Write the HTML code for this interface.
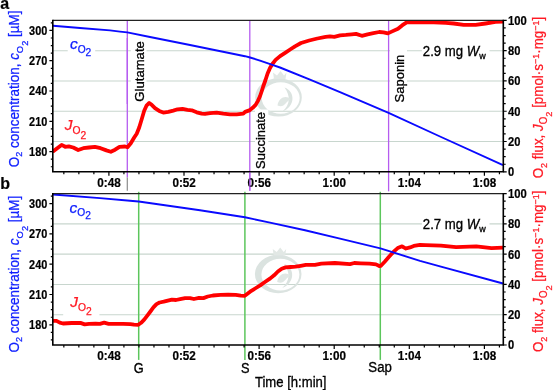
<!DOCTYPE html><html><head><meta charset="utf-8"><title>O2 flux traces</title><style>html,body{margin:0;padding:0;background:#fff;overflow:hidden}svg{display:block}</style></head><body>
<svg width="553" height="390" viewBox="0 0 553 390" font-family="'Liberation Sans', Arial, Helvetica, sans-serif">
<style>.t{stroke:#000;stroke-width:0.3px}.tb{stroke:#1020ff;stroke-width:0.25px}.tr{stroke:#ff1a24;stroke-width:0.25px}.tk{stroke:#000;stroke-width:0.2px}</style>
<rect width="553" height="390" fill="#fff"/>
<defs>
<clipPath id="ca"><rect x="52.8" y="20.40" width="450.50" height="151.40"/></clipPath>
<clipPath id="cb"><rect x="52.8" y="193.60" width="450.50" height="151.40"/></clipPath>
</defs>
<line x1="52.8" y1="141.52" x2="503.3" y2="141.52" stroke="#c8d6ce" stroke-width="1.1"/>
<line x1="52.8" y1="111.24" x2="503.3" y2="111.24" stroke="#c8d6ce" stroke-width="1.1"/>
<line x1="52.8" y1="80.96" x2="503.3" y2="80.96" stroke="#c8d6ce" stroke-width="1.1"/>
<line x1="52.8" y1="50.68" x2="503.3" y2="50.68" stroke="#c8d6ce" stroke-width="1.1"/>
<g transform="translate(278.5,97.4)" fill="#dbe3e0" stroke="none"><path fill-rule="evenodd" d="M-23.3,0a23.3,19.2 0 1,0 46.6,0a23.3,19.2 0 1,0 -46.6,0zM-16.8,0.6a19,15.8 0 1,0 38,0a19,15.8 0 1,0 -38,0z"/><path fill="#e2e8e5" d="M-4.5,-18.5L-5.5,-25L-1.5,-22L2,-26.5L5.5,-22L8,-25L7,-18.5z"/><path d="M6,-10C17,-6 17,9 4,14C12,7 12,-2 6,-10z"/><path fill="#e0e7e4" d="M-1,8C0,0 8,-3 12,2C7,4 6,11 -1,8z"/></g>
<line x1="127.3" y1="20.4" x2="127.3" y2="177.4" stroke="#b65cf0" stroke-width="1.3"/>
<line x1="127.3" y1="177.4" x2="127.3" y2="190.8" stroke="#8c8c8c" stroke-width="1.2"/>
<line x1="249.8" y1="20.4" x2="249.8" y2="190.8" stroke="#b65cf0" stroke-width="1.3"/>
<line x1="388.6" y1="20.4" x2="388.6" y2="191.3" stroke="#b65cf0" stroke-width="1.3"/>
<rect x="130.8" y="38" width="15.7" height="65.5" fill="#fff"/>
<rect x="255" y="109.5" width="13.3" height="61.3" fill="#fff"/>
<rect x="390" y="47" width="17.0" height="57.5" fill="#fff"/>
<rect x="67.7" y="39" width="27.5" height="19.0" fill="#fff"/>
<line x1="127.3" y1="38" x2="127.3" y2="104" stroke="#b65cf0" stroke-width="1.3"/>
<rect x="421.9" y="40.5" width="67.6" height="20" fill="#fff"/>
<g clip-path="url(#ca)">
<polyline points="53.6,151.1 57.2,148.2 61.6,144.9 65.2,146.8 68.8,146.3 73.2,147.5 78.2,150.0 83.3,148.2 89.0,147.5 94.9,146.8 100.6,148.2 106.4,150.4 110.8,151.8 115.1,149.7 119.5,146.8 125.0,146.5 127.5,147.3 130.8,143.3 134.2,137.5 136.7,133.7 139.2,127.5 141.7,119.2 144.2,110.8 146.7,105.3 149.2,103.0 151.7,104.8 155.0,108.1 159.2,110.9 163.3,112.6 168.3,111.9 173.3,110.6 177.5,109.3 182.5,108.9 187.5,109.8 191.7,110.3 196.7,112.3 201.7,113.6 205.0,113.9 210.0,113.1 216.7,112.6 223.3,113.6 230.0,114.4 236.7,114.3 243.3,113.6 245.1,111.9 249.3,110.4 252.7,107.8 255.6,104.9 257.8,101.1 259.9,96.5 261.6,91.5 263.2,86.5 265.5,80.0 267.6,73.5 270.0,68.0 272.0,64.5 275.6,59.9 280.1,56.1 285.5,52.6 290.9,49.0 295.0,46.3 301.0,43.0 309.2,40.5 317.4,38.5 325.6,36.8 330.0,36.3 334.3,36.8 340.1,35.3 345.9,34.9 351.7,34.3 356.0,33.9 361.8,35.8 367.6,34.3 373.4,33.2 379.2,32.0 383.5,32.4 387.9,33.4 392.2,31.4 398.0,28.8 402.4,25.2 406.7,22.3 410.0,22.3 419.9,22.3 433.8,22.3 445.8,22.9 453.7,23.5 463.7,24.9 475.6,24.9 485.5,23.5 495.5,21.9 503.0,21.6" fill="none" stroke="#ff0000" stroke-width="3.8" stroke-linejoin="round" stroke-linecap="round"/>
<polyline points="53.0,25.7 80.0,28.0 110.0,30.4 120.0,31.6 127.3,32.4 150.0,37.0 190.0,45.0 245.0,56.2 250.0,57.5 260.0,60.6 271.7,64.6 280.0,67.5 310.0,79.6 340.0,92.2 388.6,112.9 440.0,136.5 503.0,165.1" fill="none" stroke="#0a0aff" stroke-width="1.9" stroke-linejoin="round"/>
</g>
<line x1="52.8" y1="20.4" x2="503.3" y2="20.4" stroke="#222" stroke-width="1.2"/>
<path d="M52.8,19.799999999999997 V171.8 H503.3 V19.799999999999997" fill="none" stroke="#000" stroke-width="1.6"/>
<path d="M50.8,22.82H52.8M49.4,30.40H52.8M50.8,37.98H52.8M50.8,45.55H52.8M50.8,53.12H52.8M49.4,60.70H52.8M50.8,68.28H52.8M50.8,75.85H52.8M50.8,83.42H52.8M49.4,91.00H52.8M50.8,98.57H52.8M50.8,106.15H52.8M50.8,113.72H52.8M49.4,121.30H52.8M50.8,128.88H52.8M50.8,136.45H52.8M50.8,144.03H52.8M49.4,151.60H52.8M50.8,159.18H52.8M50.8,166.75H52.8M503.3,171.80H506.7M503.3,164.23H505.7M503.3,156.66H505.7M503.3,149.09H505.7M503.3,141.52H506.7M503.3,133.95H505.7M503.3,126.38H505.7M503.3,118.81H505.7M503.3,111.24H506.7M503.3,103.67H505.7M503.3,96.10H505.7M503.3,88.53H505.7M503.3,80.96H506.7M503.3,73.39H505.7M503.3,65.82H505.7M503.3,58.25H505.7M503.3,50.68H506.7M503.3,43.11H505.7M503.3,35.54H505.7M503.3,27.97H505.7M503.3,20.40H506.7M63.84,171.8V174.2M78.86,171.8V174.2M93.88,171.8V174.2M108.90,171.8V175.8M123.92,171.8V174.2M138.94,171.8V174.2M153.96,171.8V174.2M168.98,171.8V174.2M184.00,171.8V175.8M199.02,171.8V174.2M214.04,171.8V174.2M229.06,171.8V174.2M244.08,171.8V174.2M259.10,171.8V175.8M274.12,171.8V174.2M289.14,171.8V174.2M304.16,171.8V174.2M319.18,171.8V174.2M334.20,171.8V175.8M349.22,171.8V174.2M364.24,171.8V174.2M379.26,171.8V174.2M394.28,171.8V174.2M409.30,171.8V175.8M424.32,171.8V174.2M439.34,171.8V174.2M454.36,171.8V174.2M469.38,171.8V174.2M484.40,171.8V175.8M499.42,171.8V174.2" stroke="#000" stroke-width="1.2" fill="none"/>
<text x="47.3" y="34.7" font-size="12.2" font-weight="bold" class="tk" text-anchor="end" textLength="18.2" lengthAdjust="spacingAndGlyphs">300</text>
<text x="47.3" y="65.0" font-size="12.2" font-weight="bold" class="tk" text-anchor="end" textLength="18.2" lengthAdjust="spacingAndGlyphs">270</text>
<text x="47.3" y="95.3" font-size="12.2" font-weight="bold" class="tk" text-anchor="end" textLength="18.2" lengthAdjust="spacingAndGlyphs">240</text>
<text x="47.3" y="125.6" font-size="12.2" font-weight="bold" class="tk" text-anchor="end" textLength="18.2" lengthAdjust="spacingAndGlyphs">210</text>
<text x="47.3" y="155.9" font-size="12.2" font-weight="bold" class="tk" text-anchor="end" textLength="18.2" lengthAdjust="spacingAndGlyphs">180</text>
<text x="508.1" y="176.1" font-size="12.2" font-weight="bold" class="tk" textLength="6.2" lengthAdjust="spacingAndGlyphs">0</text>
<text x="508.1" y="145.8" font-size="12.2" font-weight="bold" class="tk" textLength="12.4" lengthAdjust="spacingAndGlyphs">20</text>
<text x="508.1" y="115.5" font-size="12.2" font-weight="bold" class="tk" textLength="12.4" lengthAdjust="spacingAndGlyphs">40</text>
<text x="508.1" y="85.3" font-size="12.2" font-weight="bold" class="tk" textLength="12.4" lengthAdjust="spacingAndGlyphs">60</text>
<text x="508.1" y="55.0" font-size="12.2" font-weight="bold" class="tk" textLength="12.4" lengthAdjust="spacingAndGlyphs">80</text>
<text x="508.1" y="24.7" font-size="12.2" font-weight="bold" class="tk" textLength="18.8" lengthAdjust="spacingAndGlyphs">100</text>
<text x="97.3" y="187.1" font-size="12.2" font-weight="bold" class="tk" textLength="23.4" lengthAdjust="spacingAndGlyphs">0:48</text>
<text x="172.4" y="187.1" font-size="12.2" font-weight="bold" class="tk" textLength="23.4" lengthAdjust="spacingAndGlyphs">0:52</text>
<text x="247.5" y="187.1" font-size="12.2" font-weight="bold" class="tk" textLength="23.4" lengthAdjust="spacingAndGlyphs">0:56</text>
<text x="322.6" y="187.1" font-size="12.2" font-weight="bold" class="tk" textLength="23.4" lengthAdjust="spacingAndGlyphs">1:00</text>
<text x="397.7" y="187.1" font-size="12.2" font-weight="bold" class="tk" textLength="23.4" lengthAdjust="spacingAndGlyphs">1:04</text>
<text x="472.8" y="187.1" font-size="12.2" font-weight="bold" class="tk" textLength="23.4" lengthAdjust="spacingAndGlyphs">1:08</text>
<line x1="52.8" y1="314.72" x2="503.3" y2="314.72" stroke="#c8d6ce" stroke-width="1.1"/>
<line x1="52.8" y1="284.44" x2="503.3" y2="284.44" stroke="#c8d6ce" stroke-width="1.1"/>
<line x1="52.8" y1="254.16" x2="503.3" y2="254.16" stroke="#c8d6ce" stroke-width="1.1"/>
<line x1="52.8" y1="223.88" x2="503.3" y2="223.88" stroke="#c8d6ce" stroke-width="1.1"/>
<g transform="translate(278.2,274)" fill="#dbe3e0" stroke="none"><path fill-rule="evenodd" d="M-23.3,0a23.3,19.2 0 1,0 46.6,0a23.3,19.2 0 1,0 -46.6,0zM-16.8,0.6a19,15.8 0 1,0 38,0a19,15.8 0 1,0 -38,0z"/><path fill="#e2e8e5" d="M-4.5,-18.5L-5.5,-25L-1.5,-22L2,-26.5L5.5,-22L8,-25L7,-18.5z"/><path d="M6,-10C17,-6 17,9 4,14C12,7 12,-2 6,-10z"/><path fill="#e0e7e4" d="M-1,8C0,0 8,-3 12,2C7,4 6,11 -1,8z"/></g>
<line x1="138.7" y1="191.8" x2="138.7" y2="359.9" stroke="#5cc65c" stroke-width="1.5"/>
<line x1="244.9" y1="191.8" x2="244.9" y2="359.9" stroke="#5cc65c" stroke-width="1.5"/>
<line x1="380.3" y1="191.8" x2="380.3" y2="359.9" stroke="#5cc65c" stroke-width="1.5"/>
<rect x="67.5" y="202" width="27.5" height="19.5" fill="#fff"/>
<rect x="63.2" y="293" width="36.2" height="24.0" fill="#fff"/>
<rect x="421.9" y="213.7" width="67.6" height="20" fill="#fff"/>
<g clip-path="url(#cb)">
<polyline points="53.6,320.8 56.5,320.9 59.8,322.6 63.0,323.5 71.7,323.0 80.4,322.9 84.7,324.4 89.0,323.9 95.6,323.6 99.9,323.9 104.2,322.7 108.6,323.8 115.9,323.9 123.1,323.8 130.4,324.1 134.0,324.7 138.3,324.8 141.1,322.8 144.2,319.7 147.3,315.6 150.4,311.5 153.4,307.4 156.5,304.1 159.6,302.5 163.7,301.7 167.8,300.6 171.9,299.6 176.0,300.0 180.1,299.1 185.1,298.1 190.1,298.1 193.9,299.0 199.0,297.8 203.4,298.1 207.8,296.5 212.9,295.5 220.5,294.9 228.1,294.6 235.7,294.9 240.8,295.7 244.8,295.8 250.1,291.7 255.1,288.5 260.2,285.4 265.3,281.8 270.3,278.4 274.1,275.3 277.9,271.5 281.7,268.7 285.5,267.4 290.6,267.0 295.6,266.6 300.7,265.8 305.8,264.9 315.0,264.9 321.4,263.6 334.9,263.0 350.0,264.1 354.3,263.0 360.8,263.3 369.5,263.6 376.0,264.4 379.3,266.0 380.9,265.8 384.7,261.7 389.0,256.8 393.4,251.9 397.7,248.1 402.1,246.3 404.2,247.6 405.9,248.5 410.0,247.4 413.8,245.9 420.0,244.8 425.7,245.1 440.9,245.6 456.1,247.2 476.3,246.4 491.5,248.2 502.9,247.7" fill="none" stroke="#ff0000" stroke-width="3.8" stroke-linejoin="round" stroke-linecap="round"/>
<polyline points="53.0,194.5 100.0,198.1 130.0,200.7 138.7,201.5 200.0,210.3 244.9,217.3 270.0,222.6 305.0,230.2 340.0,238.6 380.4,248.4 420.0,260.8 440.0,266.4 503.0,283.5" fill="none" stroke="#0a0aff" stroke-width="1.9" stroke-linejoin="round"/>
</g>
<line x1="52.8" y1="193.6" x2="503.3" y2="193.6" stroke="#222" stroke-width="1.2"/>
<path d="M52.8,193.0 V345.0 H503.3 V193.0" fill="none" stroke="#000" stroke-width="1.6"/>
<path d="M50.8,196.03H52.8M49.4,203.60H52.8M50.8,211.17H52.8M50.8,218.75H52.8M50.8,226.32H52.8M49.4,233.90H52.8M50.8,241.47H52.8M50.8,249.05H52.8M50.8,256.62H52.8M49.4,264.20H52.8M50.8,271.77H52.8M50.8,279.35H52.8M50.8,286.93H52.8M49.4,294.50H52.8M50.8,302.07H52.8M50.8,309.65H52.8M50.8,317.23H52.8M49.4,324.80H52.8M50.8,332.38H52.8M50.8,339.95H52.8M503.3,345.00H506.7M503.3,337.43H505.7M503.3,329.86H505.7M503.3,322.29H505.7M503.3,314.72H506.7M503.3,307.15H505.7M503.3,299.58H505.7M503.3,292.01H505.7M503.3,284.44H506.7M503.3,276.87H505.7M503.3,269.30H505.7M503.3,261.73H505.7M503.3,254.16H506.7M503.3,246.59H505.7M503.3,239.02H505.7M503.3,231.45H505.7M503.3,223.88H506.7M503.3,216.31H505.7M503.3,208.74H505.7M503.3,201.17H505.7M503.3,193.60H506.7M63.84,345.0V347.4M78.86,345.0V347.4M93.88,345.0V347.4M108.90,345.0V349.0M123.92,345.0V347.4M138.94,345.0V347.4M153.96,345.0V347.4M168.98,345.0V347.4M184.00,345.0V349.0M199.02,345.0V347.4M214.04,345.0V347.4M229.06,345.0V347.4M244.08,345.0V347.4M259.10,345.0V349.0M274.12,345.0V347.4M289.14,345.0V347.4M304.16,345.0V347.4M319.18,345.0V347.4M334.20,345.0V349.0M349.22,345.0V347.4M364.24,345.0V347.4M379.26,345.0V347.4M394.28,345.0V347.4M409.30,345.0V349.0M424.32,345.0V347.4M439.34,345.0V347.4M454.36,345.0V347.4M469.38,345.0V347.4M484.40,345.0V349.0M499.42,345.0V347.4" stroke="#000" stroke-width="1.2" fill="none"/>
<text x="47.3" y="207.9" font-size="12.2" font-weight="bold" class="tk" text-anchor="end" textLength="18.2" lengthAdjust="spacingAndGlyphs">300</text>
<text x="47.3" y="238.2" font-size="12.2" font-weight="bold" class="tk" text-anchor="end" textLength="18.2" lengthAdjust="spacingAndGlyphs">270</text>
<text x="47.3" y="268.5" font-size="12.2" font-weight="bold" class="tk" text-anchor="end" textLength="18.2" lengthAdjust="spacingAndGlyphs">240</text>
<text x="47.3" y="298.8" font-size="12.2" font-weight="bold" class="tk" text-anchor="end" textLength="18.2" lengthAdjust="spacingAndGlyphs">210</text>
<text x="47.3" y="329.1" font-size="12.2" font-weight="bold" class="tk" text-anchor="end" textLength="18.2" lengthAdjust="spacingAndGlyphs">180</text>
<text x="508.1" y="349.3" font-size="12.2" font-weight="bold" class="tk" textLength="6.2" lengthAdjust="spacingAndGlyphs">0</text>
<text x="508.1" y="319.0" font-size="12.2" font-weight="bold" class="tk" textLength="12.4" lengthAdjust="spacingAndGlyphs">20</text>
<text x="508.1" y="288.7" font-size="12.2" font-weight="bold" class="tk" textLength="12.4" lengthAdjust="spacingAndGlyphs">40</text>
<text x="508.1" y="258.5" font-size="12.2" font-weight="bold" class="tk" textLength="12.4" lengthAdjust="spacingAndGlyphs">60</text>
<text x="508.1" y="228.2" font-size="12.2" font-weight="bold" class="tk" textLength="12.4" lengthAdjust="spacingAndGlyphs">80</text>
<text x="508.1" y="197.9" font-size="12.2" font-weight="bold" class="tk" textLength="18.8" lengthAdjust="spacingAndGlyphs">100</text>
<text x="97.3" y="360.3" font-size="12.2" font-weight="bold" class="tk" textLength="23.4" lengthAdjust="spacingAndGlyphs">0:48</text>
<text x="172.4" y="360.3" font-size="12.2" font-weight="bold" class="tk" textLength="23.4" lengthAdjust="spacingAndGlyphs">0:52</text>
<text x="247.5" y="360.3" font-size="12.2" font-weight="bold" class="tk" textLength="23.4" lengthAdjust="spacingAndGlyphs">0:56</text>
<text x="322.6" y="360.3" font-size="12.2" font-weight="bold" class="tk" textLength="23.4" lengthAdjust="spacingAndGlyphs">1:00</text>
<text x="397.7" y="360.3" font-size="12.2" font-weight="bold" class="tk" textLength="23.4" lengthAdjust="spacingAndGlyphs">1:04</text>
<text x="472.8" y="360.3" font-size="12.2" font-weight="bold" class="tk" textLength="23.4" lengthAdjust="spacingAndGlyphs">1:08</text>
<line x1="249.8" y1="172.5" x2="249.8" y2="190.8" stroke="#b65cf0" stroke-width="1.3" opacity="0.85"/>
<text x="0.2" y="9.0" font-size="16" font-weight="bold" class="tk">a</text>
<text x="0.2" y="189.4" font-size="16" font-weight="bold" class="tk">b</text>
<text transform="translate(18.9,88.9) rotate(-90) scale(0.96,1)" font-size="14" fill="#1020ff" text-anchor="middle" class="tb">O<tspan font-size="9.5" dy="3">2</tspan><tspan dy="-3"> concentration, </tspan><tspan font-style="italic">c</tspan><tspan font-size="9.8" dy="4">O</tspan><tspan font-size="9.6" dy="4.8">2</tspan><tspan dy="-8.8" font-size="14"> [µM]</tspan></text>
<text transform="translate(18.9,274.2) rotate(-90) scale(0.96,1)" font-size="14" fill="#1020ff" text-anchor="middle" class="tb">O<tspan font-size="9.5" dy="3">2</tspan><tspan dy="-3"> concentration, </tspan><tspan font-style="italic">c</tspan><tspan font-size="9.8" dy="4">O</tspan><tspan font-size="9.6" dy="4.8">2</tspan><tspan dy="-8.8" font-size="14"> [µM]</tspan></text>
<text transform="translate(543.2,97.5) rotate(-90) scale(0.97,1)" font-size="13.8" fill="#ff1a24" text-anchor="middle" class="tr">O<tspan font-size="9.3" dy="3.3">2</tspan><tspan dy="-3.3"> flux, </tspan><tspan font-style="italic">J</tspan><tspan font-size="10" dy="3.6">O</tspan><tspan font-size="9.5" dy="5">2</tspan><tspan dy="-8.6"> [pmol·s</tspan><tspan font-size="9.3" dy="-4">−1</tspan><tspan dy="4">·mg</tspan><tspan font-size="9.3" dy="-4">−1</tspan><tspan dy="4">]</tspan></text>
<text transform="translate(543.2,271.3) rotate(-90) scale(0.97,1)" font-size="13.8" fill="#ff1a24" text-anchor="middle" class="tr">O<tspan font-size="9.3" dy="3.3">2</tspan><tspan dy="-3.3"> flux, </tspan><tspan font-style="italic">J</tspan><tspan font-size="10" dy="3.6">O</tspan><tspan font-size="9.5" dy="5">2</tspan><tspan dy="-8.6"> [pmol·s</tspan><tspan font-size="9.3" dy="-4">−1</tspan><tspan dy="4">·mg</tspan><tspan font-size="9.3" dy="-4">−1</tspan><tspan dy="4">]</tspan></text>
<text x="69.9" y="49.4" font-size="15.5" fill="#1020ff" class="tb"><tspan font-style="italic">c</tspan><tspan font-size="10.2" dy="3.6">O</tspan><tspan font-size="10.2" dy="3.3">2</tspan></text>
<text x="69.5" y="212.5" font-size="15.5" fill="#1020ff" class="tb"><tspan font-style="italic">c</tspan><tspan font-size="10.2" dy="3.6">O</tspan><tspan font-size="10.2" dy="3.3">2</tspan></text>
<text x="64.8" y="130.2" font-size="15.4" fill="#ff1a24" class="tr"><tspan font-style="italic">J</tspan><tspan font-size="10.3" dy="4.2">O</tspan><tspan font-size="10.3" dy="4.5">2</tspan></text>
<text x="70.3" y="306.5" font-size="15.4" fill="#ff1a24" class="tr"><tspan font-style="italic">J</tspan><tspan font-size="10.3" dy="4.2">O</tspan><tspan font-size="10.3" dy="4.5">2</tspan></text>
<text transform="translate(143.8,101.7) rotate(-90) scale(1,1.03)" font-size="13.15" class="t">Glutamate</text>
<text transform="translate(264.5,169.0) rotate(-90) scale(1,1.03)" font-size="13.0" class="t">Succinate</text>
<text transform="translate(404.1,102.4) rotate(-90) scale(1,1.03)" font-size="13.0" class="t">Saponin</text>
<text transform="translate(422.8,55.7) scale(1,1.08)" font-size="13.2" class="t">2.9 mg <tspan font-style="italic">W</tspan><tspan font-size="9" dy="3">w</tspan></text>
<text transform="translate(422.8,228.7) scale(1,1.08)" font-size="13.2" class="t">2.7 mg <tspan font-style="italic">W</tspan><tspan font-size="9" dy="3">w</tspan></text>
<text transform="translate(138.8,372.8) scale(1,1.08)" font-size="12.8" text-anchor="middle" class="t">G</text>
<text transform="translate(245.2,372.8) scale(1,1.08)" font-size="12.8" text-anchor="middle" class="t">S</text>
<text transform="translate(380.1,372.3) scale(1,1.08)" font-size="13.2" text-anchor="middle" class="t">Sap</text>
<text transform="translate(290.7,386.8) scale(1,1.08)" font-size="13.1" text-anchor="middle" class="t">Time [h:min]</text>
</svg></body></html>
